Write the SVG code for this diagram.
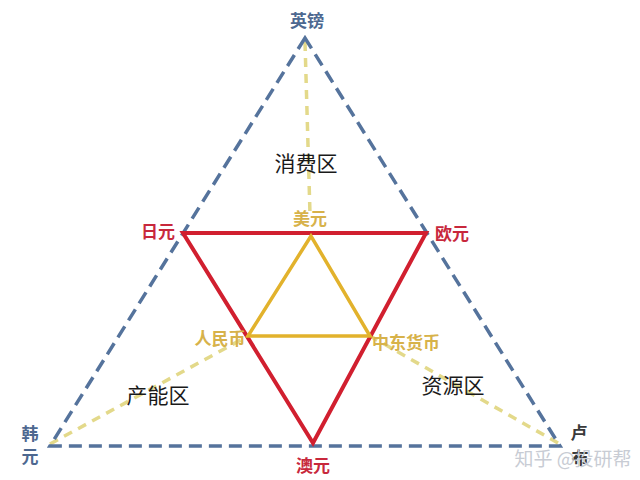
<svg xmlns="http://www.w3.org/2000/svg" width="640" height="480" viewBox="0 0 640 480">
<style>
text{font-family:"Noto Sans CJK SC","Liberation Serif",serif;text-anchor:middle;dominant-baseline:central}
.blue{fill:none;stroke:#55739c;stroke-width:3.5;stroke-dasharray:13 7}
.ydash{fill:none;stroke:#e3d98a;stroke-width:3.5;stroke-dasharray:9 7}
.red{fill:none;stroke:#d11f2f;stroke-width:4;stroke-linejoin:miter}
.gold{fill:none;stroke:#e2b22c;stroke-width:3.5}
.lb{fill:#4d6890;font-size:17px;font-weight:bold}
.lr{fill:#c8283c;font-size:17px;font-weight:bold}
.lg{fill:#d7b24a;font-size:17px;font-weight:bold}
.dk{fill:#3a3a3a;font-size:17px;font-weight:bold}
.zone{fill:#1a1a1a;font-size:21px}
.wm{fill:#c8ccd4;font-size:19px}
</style>
<rect width="640" height="480" fill="#ffffff"/>
<g id="connectors">
<path class="ydash" d="M305 42 L310 214"/>
<path class="ydash" d="M50 444 L248 336"/>
<path class="ydash" d="M558 443 L370 336"/>
<path class="blue" d="M305 38 L50 446 L560 446 Z"/>
<path class="red" d="M183 233 L426 233 L313 443 Z"/>
<path class="gold" d="M311 236 L248 336 L370 336 Z"/>
</g>
<g id="node-yingbang"><text class="lb" x="307" y="19">英镑</text></g>
<g id="node-xiaofei"><text class="zone" x="306" y="162">消费区</text></g>
<g id="node-meiyuan"><text class="lg" x="310" y="217">美元</text></g>
<g id="node-riyuan"><text class="lr" x="158" y="230">日元</text></g>
<g id="node-ouyuan"><text class="lr" x="452" y="232">欧元</text></g>
<g id="node-renminbi"><text class="lg" x="220" y="337">人民币</text></g>
<g id="node-zhongdong"><text class="lg" x="406" y="341">中东货币</text></g>
<g id="node-channeng"><text class="zone" x="158" y="394">产能区</text></g>
<g id="node-ziyuan"><text class="zone" x="453" y="384">资源区</text></g>
<g id="node-hanyuan"><text class="lb" x="30" y="432">韩</text><text class="lb" x="30" y="455">元</text></g>
<g id="node-lubu"><text class="dk" x="579" y="431">卢</text><text class="dk" x="580" y="456">布</text></g>
<g id="node-aoyuan"><text class="lr" x="313" y="464">澳元</text></g>
<g id="watermark"><text class="wm" x="573" y="457">知乎 @投研帮</text></g>
</svg>
